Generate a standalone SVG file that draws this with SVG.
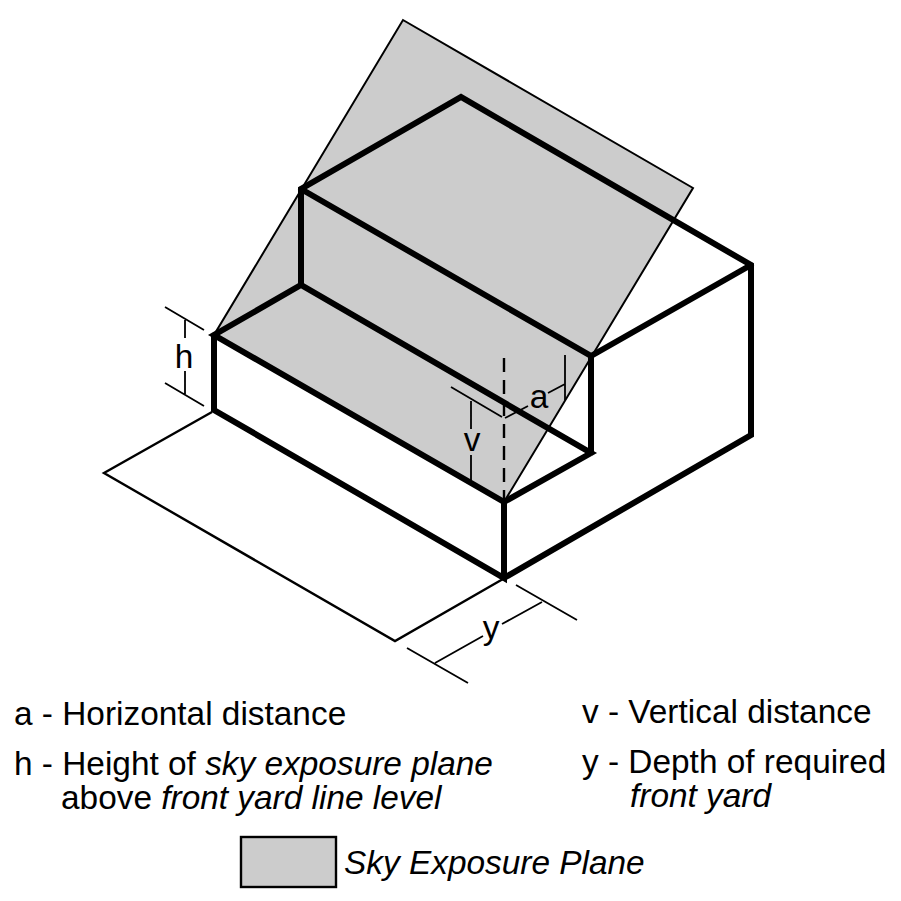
<svg xmlns="http://www.w3.org/2000/svg" width="901" height="901" viewBox="0 0 901 901">
<style>
text{font-family:"Liberation Sans",Arial,sans-serif;font-size:33.4px;fill:#000}
.i{font-style:italic}
.c{text-anchor:middle}
.thin,.hair,.thick{fill:none;stroke:#000}
.hair{stroke-width:1.8}
.thin{stroke-width:2.4}
.thick{stroke-width:6;stroke-linejoin:miter;stroke-linecap:round}
</style>
<rect width="901" height="901" fill="#fff"/>
<g id="plane"><path d="M403 20L693 188L504 502L214 335Z" fill="#ccc" stroke="#000" stroke-width="2"/></g>
<g id="connectors">
<path class="thick" d="M214 335V410L504 578V502L214 335L301 285L591 453L504 502M301 285V189L461 97L751 265V435L504 578M301 189L591 356V453M591 356L751 265"/>
<path class="thin" d="M212 412L104 473L395 641L503 579"/>
<path d="M504 358V502" fill="none" stroke="#000" stroke-width="2.4" stroke-dasharray="14 8"/>
<path class="hair" d="M165 307L204 330M165 383L204 406M185 320V338M185 371V394"/>
<path class="hair" d="M451 387L502 417M471 401V429M471 455V481M565 355V400M565 384L548 393M528 406L505 418"/>
<path class="hair" d="M516 585L577 620M407 648L468 683M542 602L502 624M483 636L435 663"/>
</g>
<g id="labels">
<text class="c" x="184" y="368">h</text>
<text class="c" x="472" y="451">v</text>
<text class="c" x="539" y="408">a</text>
<text class="c" x="491" y="639">y</text>
</g>
<g id="legend-text">
<text x="14" y="725">a - Horizontal distance</text>
<text x="14" y="775">h - Height of <tspan class="i">sky exposure plane</tspan></text>
<text x="61" y="809">above <tspan class="i">front yard line level</tspan></text>
<text x="582" y="723">v - Vertical distance</text>
<text x="582" y="773">y - Depth of required</text>
<text class="i" x="630" y="807">front yard</text>
</g>
<g id="legend-key">
<rect x="241" y="837" width="95" height="50" fill="#ccc" stroke="#000" stroke-width="2.4"/>
<text class="i" x="344" y="874">Sky Exposure Plane</text>
</g>
</svg>
